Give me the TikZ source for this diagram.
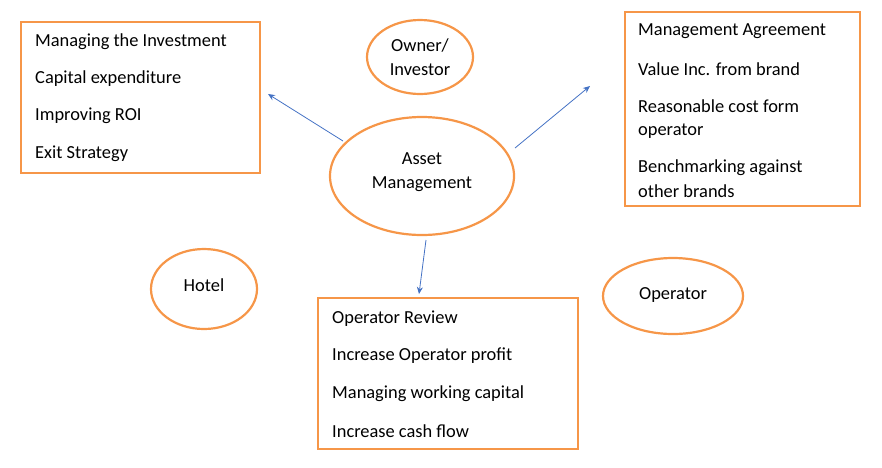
\documentclass[tikz,border=0pt]{standalone}
\usepackage{fontspec}
\setmainfont{Carlito}
\usetikzlibrary{shapes.geometric,arrows.meta}
\definecolor{org}{RGB}{246,150,72}
\definecolor{blu}{RGB}{68,114,196}
\begin{document}
\begin{tikzpicture}[x=1pt,y=-1pt,
  box/.style={draw=org,line width=2.2pt},
  ell/.style={draw=org,line width=2.2pt,ellipse,inner sep=0pt},
  txt/.style={anchor=west,inner sep=0pt,font=\fontsize{18.4}{21}\selectfont},
  ctr/.style={align=center,font=\fontsize{18.4}{24.5}\selectfont},
  arr/.style={draw=blu,line width=0.8pt,-{Stealth[length=7pt,width=6pt]}}]
\useasboundingbox (0,0) rectangle (882,467);
\draw[box] (21,22) rectangle (260,173);
\node[txt] (t1) at (35,42) {Managing the Investment};
\node[txt] (t2) at (35,79) {Capital expenditure};
\node[txt] (t3) at (35,116) {Improving ROI};
\node[txt] (t4) at (35,154) {Exit Strategy};
\node[ell,minimum width=106pt,minimum height=74pt] (own) at (420,57) {};
\node[ctr] (ownt) at (420,57) {Owner/\\Investor};
\draw[box] (625,12) rectangle (860,206);
\node[txt] (u1) at (638,31) {Management Agreement};
\node[txt] (u2) at (638,69) {Value Inc. from brand};
\node[txt] (u3) at (638,106) {Reasonable cost form};
\node[txt] (u4) at (638,131) {operator};
\node[txt] (u5) at (638,168) {Benchmarking against};
\node[txt] (u6) at (638,191) {other brands};
\node[ell,minimum width=184pt,minimum height=118pt] (am) at (422,176) {};
\node[ctr] (amt) at (422,172) {Asset\\Management};
\node[ell,minimum width=106pt,minimum height=80pt] (hot) at (204,289) {};
\node[ctr] (hott) at (204,285) {Hotel};
\draw[box] (318,298) rectangle (578,449);
\node[txt] (v1) at (332,319) {Operator Review};
\node[txt] (v2) at (332,356) {Increase Operator profit};
\node[txt] (v3) at (332,394) {Managing working capital};
\node[txt] (v4) at (332,431) {Increase cash flow};
\node[ell,minimum width=140pt,minimum height=76pt] (op) at (673,296) {};
\node[ctr] (opt) at (673,295) {Operator};
\coordinate (e1) at (268,94);
\coordinate (e2) at (590,86);
\coordinate (e3) at (419,294);
\coordinate (s1) at (343,141);
\coordinate (s2) at (515,148);
\coordinate (s3) at (426,240);
\draw[arr] (s1) -- (e1);
\draw[arr] (s2) -- (e2);
\draw[arr] (s3) -- (e3);
\end{tikzpicture}
\end{document}
